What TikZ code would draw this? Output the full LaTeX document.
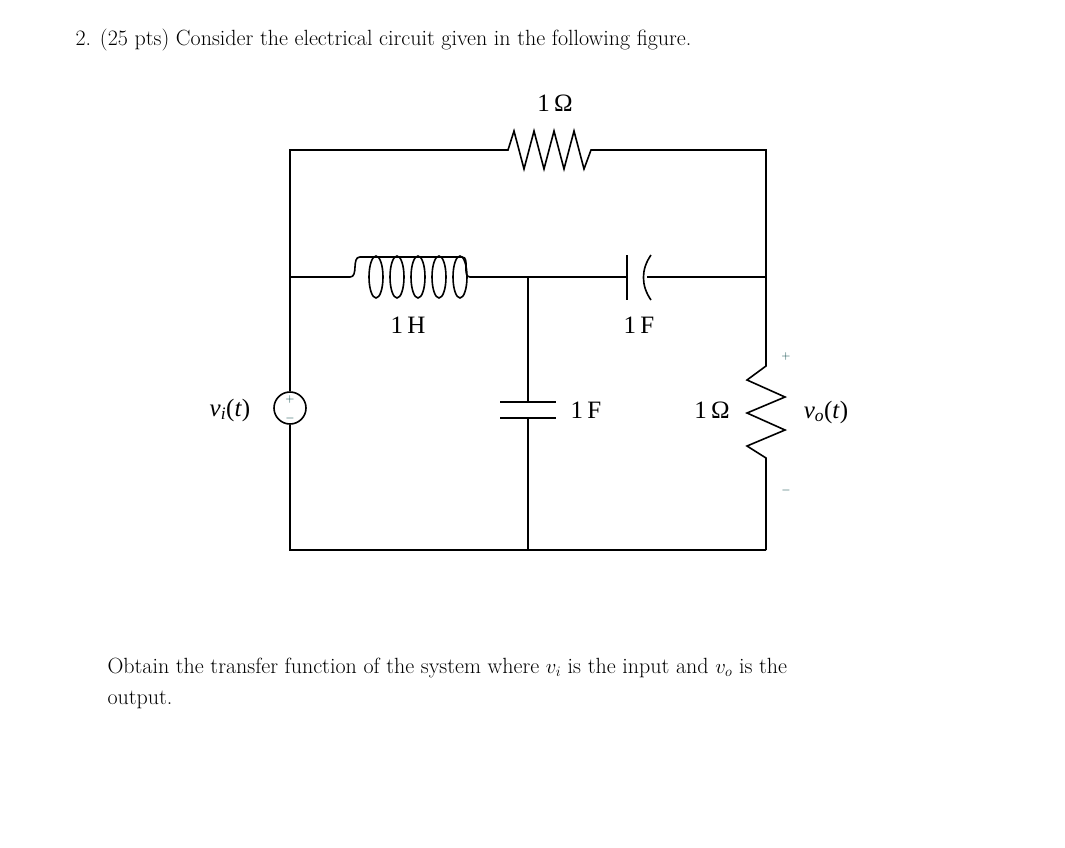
\documentclass[tikz,border=0pt]{standalone}
\usepackage{fontspec}
\newfontfamily\circfont{Liberation Serif}
\begin{document}
\begin{tikzpicture}[x=1pt,y=-1pt,wire/.style={line width=1.6pt},txt/.style={font=\fontsize{22}{24}\selectfont},lbl/.style={font=\circfont\fontsize{25}{26}\selectfont},pm/.style={font=\fontsize{13}{13}\selectfont,text=teal!50!black}]
\useasboundingbox (0,0) rectangle (1065,847);
\node[txt,anchor=west] (title) at (72,40) {2. (25 pts) Consider the electrical circuit given in the following figure.};
\node[txt,anchor=west] (q1) at (104,668) {Obtain the transfer function of the system where $v_i$ is the input and $v_o$ is the};
\node[txt,anchor=west] (q2) at (104,700) {output.};
\coordinate (TL) at (290,150); \coordinate (TR) at (766,150);
\coordinate (ML) at (290,277); \coordinate (MM) at (528,277); \coordinate (MR) at (766,277);
\coordinate (BL) at (290,550); \coordinate (BM) at (528,550); \coordinate (BR) at (766,550);
% top resistor
\draw[wire] (ML) -- (TL) -- (508,150) -- (514,131) -- (524,169) -- (534,131) -- (544,169) -- (554,131) -- (564,169) -- (574,131) -- (584,169) -- (591,150) -- (TR) -- (MR);
% inductor
\draw[wire] (ML) -- (350,277) to[out=0,in=180] (360,257) -- (462,257) to[out=0,in=180] (470,277) -- (MM);
\foreach \i in {0,...,4} \draw[wire] (376+21*\i,277) ellipse (7 and 21);
% series capacitor
\draw[wire] (MM) -- (627,277);
\draw[wire] (627,255) -- (627,300);
\draw[wire] (651,255) to[bend right=35] (651,300);
\draw[wire] (647,277) -- (MR);
% shunt cap
\draw[wire] (MM) -- (528,402); \draw[wire] (500,402) -- (556,402);
\draw[wire] (500,418) -- (556,418); \draw[wire] (528,418) -- (BM);
% right resistor
\draw[wire] (MR) -- (766,366) -- (747,380) -- (785,397) -- (747,413) -- (785,430) -- (747,446) -- (766,458) -- (BR);
% source
\node[draw,circle,line width=1.6pt,minimum size=32pt,inner sep=0] (src) at (290,408) {};
\draw[wire] (ML) -- (src.north);
\draw[wire] (src.south) -- (BL) -- (BR);
\node[pm] (sp) at (290,399) {$+$};
\node[pm] (sm) at (290,418) {$-$};
\node[pm] (op) at (786,356) {$+$};
\node[pm] (om) at (786,490) {$-$};
\node[lbl] (l1) at (555,103) {1\,Ω};
\node[lbl] (l2) at (408,325) {1\,H};
\node[lbl] (l3) at (639,325) {1\,F};
\node[lbl] (l4) at (586,410) {1\,F};
\node[lbl] (l5) at (712,410) {1\,Ω};
\node[lbl] (vi) at (230,410) {\textit{v}\textsubscript{\textit{i}}(\textit{t})};
\node[lbl] (vo) at (826,412) {\textit{v}\textsubscript{\textit{o}}(\textit{t})};
\end{tikzpicture}
\end{document}
